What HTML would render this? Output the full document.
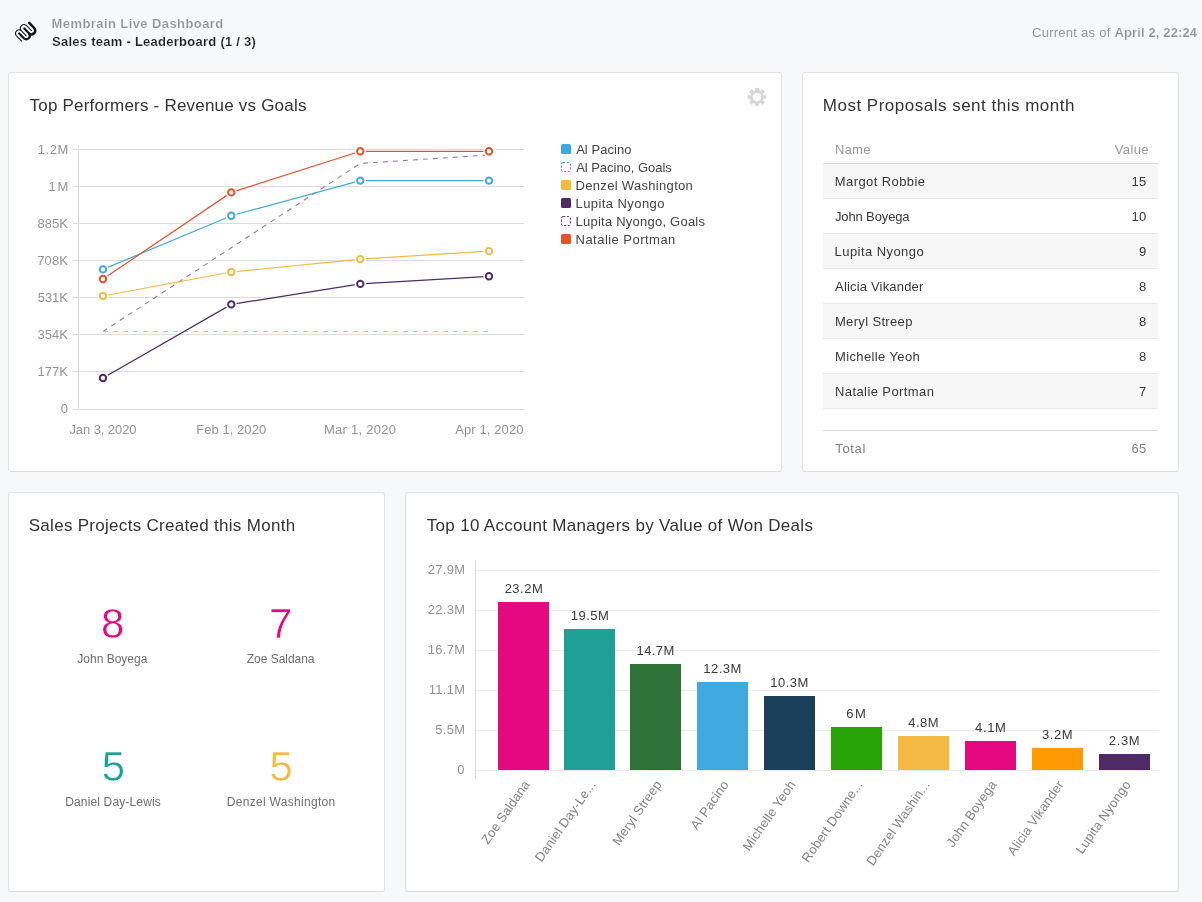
<!DOCTYPE html>
<html lang="en">
<head>
<meta charset="utf-8">
<title>Membrain Live Dashboard</title>
<style>
html,body{margin:0;padding:0}
body{width:1202px;height:902px;background:#f7f8fa;font-family:"Liberation Sans",sans-serif;position:relative;overflow:hidden;color:#333}
.t{position:absolute;white-space:nowrap;line-height:1;margin:0;padding:0;font-weight:normal}
.card{position:absolute;box-sizing:border-box;background:#fff;border:1px solid #e1e3e6;border-bottom-color:#d9dbde;border-radius:3px}
svg{position:absolute;left:0;top:0;overflow:visible}
svg text{font-family:"Liberation Sans",sans-serif}
.row{position:absolute;left:14px;width:335px;height:34px;border-bottom:1px solid #e8e8e8}
.row.odd{background:#f7f7f7}
.kpi{font-size:42px}
</style>
</head>
<body>

<header>
<svg width="60" height="60" viewBox="0 0 60 60" style="left:0;top:0">
<g transform="translate(25.8 31.8) rotate(-44)" fill="none" stroke="#151515" stroke-linejoin="round">
<path d="M-9.5 4.2 L-9.5 -4.3 A3.6 3.6 0 0 1 -2.5 -4.3 L-2.5 3.6 M-2.5 -4.3 A3.75 3.75 0 0 1 4.9 -4.3 L4.9 3.6" stroke-width="1" stroke-linecap="butt"/>
<path d="M-5.9 -3.4 L-5.9 3.6 A3.6 3.6 0 0 0 1.2 3.6 L1.2 -3.4" stroke-width="2.2" stroke-linecap="round"/>
<path d="M1.2 3.6 A3.75 3.75 0 0 0 8.6 3.6 L8.6 -4.0" stroke-width="2.5" stroke-linecap="round"/>
</g></svg>
<span class="t" style="left:51.55px;top:17.20px;font-size:13px;letter-spacing:0.416px;color:#959595;font-weight:bold;-webkit-text-stroke:0.15px #f7f8fa;">Membrain Live Dashboard</span>
<span class="t" style="left:52.00px;top:35.00px;font-size:13px;letter-spacing:0.263px;color:#1c1c1c;font-weight:bold;-webkit-text-stroke:0.15px #f7f8fa;">Sales team - Leaderboard (1 / 3)</span>
<span class="t" style="left:1032.05px;top:26.20px;font-size:13px;letter-spacing:0.254px;color:#999;">Current as of</span>
<span class="t" style="left:1114.45px;top:26.20px;font-size:13px;letter-spacing:0.131px;color:#959595;font-weight:bold;-webkit-text-stroke:0.15px #f7f8fa;">April 2, 22:24</span>
</header>
<section class="card" style="left:8px;top:72px;width:774px;height:400px">
<h2 class="t" style="left:20.60px;top:24.11px;font-size:17px;letter-spacing:0.206px;color:#333;">Top Performers - Revenue vs Goals</h2>
<svg width="22" height="22" viewBox="-11 -11 22 22" style="left:736.5px;top:13.4px"><g fill="#d6d6d6" transform="scale(0.97)"><circle r="7.1"/><rect x="-1.9" y="-9.6" width="3.8" height="4" rx="0.6" transform="rotate(0)"/><rect x="-1.9" y="-9.6" width="3.8" height="4" rx="0.6" transform="rotate(45)"/><rect x="-1.9" y="-9.6" width="3.8" height="4" rx="0.6" transform="rotate(90)"/><rect x="-1.9" y="-9.6" width="3.8" height="4" rx="0.6" transform="rotate(135)"/><rect x="-1.9" y="-9.6" width="3.8" height="4" rx="0.6" transform="rotate(180)"/><rect x="-1.9" y="-9.6" width="3.8" height="4" rx="0.6" transform="rotate(225)"/><rect x="-1.9" y="-9.6" width="3.8" height="4" rx="0.6" transform="rotate(270)"/><rect x="-1.9" y="-9.6" width="3.8" height="4" rx="0.6" transform="rotate(315)"/></g><circle r="4.3" fill="#fff"/></svg>
<svg width="772" height="398" viewBox="9 73 772 398">
<g stroke="#dcdcdc" stroke-width="1" shape-rendering="crispEdges">
<line x1="73" y1="149.5" x2="524" y2="149.5"/>
<line x1="73" y1="186.5" x2="524" y2="186.5"/>
<line x1="73" y1="223.5" x2="524" y2="223.5"/>
<line x1="73" y1="260.5" x2="524" y2="260.5"/>
<line x1="73" y1="297.5" x2="524" y2="297.5"/>
<line x1="73" y1="334.5" x2="524" y2="334.5"/>
<line x1="73" y1="371.5" x2="524" y2="371.5"/>
<line x1="73" y1="409.5" x2="524" y2="409.5"/>
<line x1="78.5" y1="145" x2="78.5" y2="410"/>
</g>
<g>
<text x="37.70" y="154.00" font-size="13" fill="#939393" letter-spacing="0.600">1.2M</text>
<text x="48.60" y="191.00" font-size="13" fill="#939393" letter-spacing="1.700">1M</text>
<text x="37.45" y="228.00" font-size="13" fill="#939393" letter-spacing="0.017">885K</text>
<text x="37.35" y="265.00" font-size="13" fill="#939393" letter-spacing="0.050">708K</text>
<text x="37.75" y="302.00" font-size="13" fill="#939393" letter-spacing="-0.083">531K</text>
<text x="37.50" y="339.00" font-size="13" fill="#939393" letter-spacing="0.000">354K</text>
<text x="37.60" y="376.00" font-size="13" fill="#939393" letter-spacing="-0.033">177K</text>
<text x="60.70" y="412.80" font-size="13" fill="#939393" letter-spacing="0.000">0</text>
</g>
<g>
<text x="69.40" y="434.20" font-size="13" fill="#939393" letter-spacing="-0.080">Jan 3, 2020</text>
<text x="196.35" y="434.20" font-size="13" fill="#939393" letter-spacing="0.040">Feb 1, 2020</text>
<text x="323.95" y="434.20" font-size="13" fill="#939393" letter-spacing="0.270">Mar 1, 2020</text>
<text x="455.15" y="434.20" font-size="13" fill="#939393" letter-spacing="0.115">Apr 1, 2020</text>
</g>
<path d="M103.0 331.5 L360.3 163.4 L489.0 155.0" fill="none" stroke="#9079a2" stroke-width="1.1" stroke-dasharray="5 5"/>
<path d="M103.0 331.5 L489.0 331.5" fill="none" stroke="#93d0ee" stroke-width="1.1" stroke-dasharray="5 5"/>
<path d="M103.0 296.0 L231.3 272.0 L360.3 259.1 L489.0 251.1" fill="none" stroke="#f4b942" stroke-width="1.2"/>
<path d="M103.0 378.0 L231.3 304.4 L360.3 283.9 L489.0 276.3" fill="none" stroke="#4e2a69" stroke-width="1.2"/>
<path d="M103.0 269.4 L231.3 215.7 L360.3 180.6 L489.0 180.6" fill="none" stroke="#3fa9e0" stroke-width="1.2"/>
<path d="M103.0 279.0 L231.3 192.4 L360.3 151.3 L489.0 151.3" fill="none" stroke="#e4512a" stroke-width="1.2"/>
<circle cx="103.0" cy="296.0" r="5.6" fill="#fff"/>
<circle cx="231.3" cy="272.0" r="5.6" fill="#fff"/>
<circle cx="360.3" cy="259.1" r="5.6" fill="#fff"/>
<circle cx="489.0" cy="251.1" r="5.6" fill="#fff"/>
<circle cx="103.0" cy="378.0" r="5.6" fill="#fff"/>
<circle cx="231.3" cy="304.4" r="5.6" fill="#fff"/>
<circle cx="360.3" cy="283.9" r="5.6" fill="#fff"/>
<circle cx="489.0" cy="276.3" r="5.6" fill="#fff"/>
<circle cx="103.0" cy="269.4" r="5.6" fill="#fff"/>
<circle cx="231.3" cy="215.7" r="5.6" fill="#fff"/>
<circle cx="360.3" cy="180.6" r="5.6" fill="#fff"/>
<circle cx="489.0" cy="180.6" r="5.6" fill="#fff"/>
<circle cx="103.0" cy="279.0" r="5.6" fill="#fff"/>
<circle cx="231.3" cy="192.4" r="5.6" fill="#fff"/>
<circle cx="360.3" cy="151.3" r="5.6" fill="#fff"/>
<circle cx="489.0" cy="151.3" r="5.6" fill="#fff"/>
<circle cx="103.0" cy="296.0" r="3.2" fill="#fff" stroke="#f4b942" stroke-width="2"/>
<circle cx="231.3" cy="272.0" r="3.2" fill="#fff" stroke="#f4b942" stroke-width="2"/>
<circle cx="360.3" cy="259.1" r="3.2" fill="#fff" stroke="#f4b942" stroke-width="2"/>
<circle cx="489.0" cy="251.1" r="3.2" fill="#fff" stroke="#f4b942" stroke-width="2"/>
<circle cx="103.0" cy="378.0" r="3.2" fill="#fff" stroke="#4e2a69" stroke-width="2"/>
<circle cx="231.3" cy="304.4" r="3.2" fill="#fff" stroke="#4e2a69" stroke-width="2"/>
<circle cx="360.3" cy="283.9" r="3.2" fill="#fff" stroke="#4e2a69" stroke-width="2"/>
<circle cx="489.0" cy="276.3" r="3.2" fill="#fff" stroke="#4e2a69" stroke-width="2"/>
<circle cx="103.0" cy="269.4" r="3.2" fill="#fff" stroke="#3fa9e0" stroke-width="2"/>
<circle cx="231.3" cy="215.7" r="3.2" fill="#fff" stroke="#3fa9e0" stroke-width="2"/>
<circle cx="360.3" cy="180.6" r="3.2" fill="#fff" stroke="#3fa9e0" stroke-width="2"/>
<circle cx="489.0" cy="180.6" r="3.2" fill="#fff" stroke="#3fa9e0" stroke-width="2"/>
<circle cx="103.0" cy="279.0" r="3.2" fill="#fff" stroke="#e4512a" stroke-width="2"/>
<circle cx="231.3" cy="192.4" r="3.2" fill="#fff" stroke="#e4512a" stroke-width="2"/>
<circle cx="360.3" cy="151.3" r="3.2" fill="#fff" stroke="#e4512a" stroke-width="2"/>
<circle cx="489.0" cy="151.3" r="3.2" fill="#fff" stroke="#e4512a" stroke-width="2"/>
<rect x="561" y="144" width="10" height="10" rx="1.5" fill="#3fa9e0"/>
<text x="576.15" y="153.50" font-size="13" fill="#444" letter-spacing="0.056">Al Pacino</text>
<rect x="561.5" y="162.5" width="9" height="9" rx="1.5" fill="#fff" stroke="#3fa9e0" stroke-width="1" stroke-dasharray="2.2 1.6"/>
<text x="576.15" y="171.50" font-size="13" fill="#444" letter-spacing="-0.027">Al Pacino, Goals</text>
<rect x="561" y="180" width="10" height="10" rx="1.5" fill="#f4b942"/>
<text x="575.55" y="189.50" font-size="13" fill="#444" letter-spacing="0.316">Denzel Washington</text>
<rect x="561" y="198" width="10" height="10" rx="1.5" fill="#4e2a69"/>
<text x="575.55" y="207.50" font-size="13" fill="#444" letter-spacing="0.421">Lupita Nyongo</text>
<rect x="561.5" y="216.5" width="9" height="9" rx="1.5" fill="#fff" stroke="#6b3f8f" stroke-width="1" stroke-dasharray="2.2 1.6"/>
<text x="575.55" y="225.50" font-size="13" fill="#444" letter-spacing="0.232">Lupita Nyongo, Goals</text>
<rect x="561" y="234" width="10" height="10" rx="1.5" fill="#e4512a"/>
<text x="575.55" y="243.50" font-size="13" fill="#444" letter-spacing="0.468">Natalie Portman</text>
</svg>
</section>
<section class="card" style="left:802px;top:72px;width:377px;height:400px">
<h2 class="t" style="left:19.80px;top:24.11px;font-size:17px;letter-spacing:0.498px;color:#333;">Most Proposals sent this month</h2>
<span class="t" style="left:32.05px;top:69.80px;font-size:13px;letter-spacing:0.220px;color:#999;">Name</span>
<span class="t" style="left:311.75px;top:69.80px;font-size:13px;letter-spacing:0.363px;color:#999;">Value</span>
<div style="position:absolute;left:20px;top:90px;width:335px;height:1px;background:#dadada"></div>
<div class="row odd" style="left:20px;top:91px"></div>
<span class="t" style="left:31.85px;top:101.80px;font-size:13px;letter-spacing:0.404px;color:#383838;">Margot Robbie</span>
<span class="t" style="left:328.55px;top:101.80px;font-size:13px;letter-spacing:0.200px;color:#383838;">15</span>
<div class="row" style="left:20px;top:126px"></div>
<span class="t" style="left:31.90px;top:136.80px;font-size:13px;letter-spacing:-0.120px;color:#383838;">John Boyega</span>
<span class="t" style="left:328.55px;top:136.80px;font-size:13px;letter-spacing:0.200px;color:#383838;">10</span>
<div class="row odd" style="left:20px;top:161px"></div>
<span class="t" style="left:31.55px;top:171.80px;font-size:13px;letter-spacing:0.438px;color:#383838;">Lupita Nyongo</span>
<span class="t" style="left:336.10px;top:171.80px;font-size:13px;letter-spacing:0.000px;color:#383838;">9</span>
<div class="row" style="left:20px;top:196px"></div>
<span class="t" style="left:32.05px;top:206.80px;font-size:13px;letter-spacing:0.182px;color:#383838;">Alicia Vikander</span>
<span class="t" style="left:336.05px;top:206.80px;font-size:13px;letter-spacing:0.000px;color:#383838;">8</span>
<div class="row odd" style="left:20px;top:231px"></div>
<span class="t" style="left:31.95px;top:241.80px;font-size:13px;letter-spacing:0.345px;color:#383838;">Meryl Streep</span>
<span class="t" style="left:336.05px;top:241.80px;font-size:13px;letter-spacing:0.000px;color:#383838;">8</span>
<div class="row" style="left:20px;top:266px"></div>
<span class="t" style="left:31.95px;top:276.80px;font-size:13px;letter-spacing:0.388px;color:#383838;">Michelle Yeoh</span>
<span class="t" style="left:336.05px;top:276.80px;font-size:13px;letter-spacing:0.000px;color:#383838;">8</span>
<div class="row odd" style="left:20px;top:301px"></div>
<span class="t" style="left:31.95px;top:311.80px;font-size:13px;letter-spacing:0.418px;color:#383838;">Natalie Portman</span>
<span class="t" style="left:336.10px;top:311.80px;font-size:13px;letter-spacing:0.000px;color:#383838;">7</span>
<div style="position:absolute;left:20px;top:357px;width:335px;height:1px;background:#dcdcdc"></div>
<span class="t" style="left:32.30px;top:368.70px;font-size:13px;letter-spacing:0.662px;color:#828282;">Total</span>
<span class="t" style="left:328.55px;top:368.70px;font-size:13px;letter-spacing:0.200px;color:#828282;">65</span>
</section>
<section class="card" style="left:8px;top:492px;width:377px;height:400px">
<h2 class="t" style="left:19.70px;top:24.11px;font-size:17px;letter-spacing:0.294px;color:#333;">Sales Projects Created this Month</h2>
<span class="t kpi" style="left:91.95px;top:109.65px;font-size:42px;letter-spacing:0.000px;color:#e5097f;-webkit-text-stroke:0.4px #fff;">8</span>
<span class="t" style="left:68.30px;top:159.94px;font-size:12px;letter-spacing:-0.005px;color:#6e6e6e;">John Boyega</span>
<span class="t kpi" style="left:259.90px;top:109.65px;font-size:42px;letter-spacing:0.000px;color:#e5097f;-webkit-text-stroke:0.4px #fff;">7</span>
<span class="t" style="left:237.80px;top:159.94px;font-size:12px;letter-spacing:-0.035px;color:#6e6e6e;">Zoe Saldana</span>
<span class="t kpi" style="left:92.65px;top:253.05px;font-size:42px;letter-spacing:0.000px;color:#1fa097;-webkit-text-stroke:0.4px #fff;">5</span>
<span class="t" style="left:56.20px;top:302.64px;font-size:12px;letter-spacing:0.147px;color:#6e6e6e;">Daniel Day-Lewis</span>
<span class="t kpi" style="left:260.55px;top:253.05px;font-size:42px;letter-spacing:0.000px;color:#f4b942;-webkit-text-stroke:0.4px #fff;">5</span>
<span class="t" style="left:217.70px;top:302.64px;font-size:12px;letter-spacing:0.309px;color:#6e6e6e;">Denzel Washington</span>
</section>
<section class="card" style="left:405px;top:492px;width:774px;height:400px">
<h2 class="t" style="left:20.80px;top:24.11px;font-size:17px;letter-spacing:0.306px;color:#333;">Top 10 Account Managers by Value of Won Deals</h2>
<svg width="772" height="398" viewBox="406 493 772 398">
<g stroke="#ebebeb" stroke-width="1" shape-rendering="crispEdges">
<line x1="476" y1="570.5" x2="1158" y2="570.5"/>
<line x1="476" y1="610.5" x2="1158" y2="610.5"/>
<line x1="476" y1="650.5" x2="1158" y2="650.5"/>
<line x1="476" y1="690.5" x2="1158" y2="690.5"/>
<line x1="476" y1="730.5" x2="1158" y2="730.5"/>
<line x1="476" y1="770.5" x2="1158" y2="770.5"/>
</g>
<line x1="475.5" y1="560" x2="475.5" y2="779" stroke="#dcdcdc" stroke-width="1" shape-rendering="crispEdges"/>
<text x="427.85" y="573.60" font-size="13" fill="#929292" letter-spacing="0.250">27.9M</text>
<text x="427.85" y="613.60" font-size="13" fill="#929292" letter-spacing="0.250">22.3M</text>
<text x="427.85" y="653.60" font-size="13" fill="#929292" letter-spacing="0.250">16.7M</text>
<text x="428.80" y="693.60" font-size="13" fill="#929292" letter-spacing="0.250">11.1M</text>
<text x="435.35" y="733.60" font-size="13" fill="#929292" letter-spacing="0.250">5.5M</text>
<text x="457.20" y="773.60" font-size="13" fill="#929292" letter-spacing="0.000">0</text>
<rect x="498" y="602.0" width="51" height="168.0" fill="#e5097f" shape-rendering="crispEdges"/>
<text x="504.65" y="592.80" font-size="13" fill="#3a3a3a" letter-spacing="0.500">23.2M</text>
<rect x="564" y="629.0" width="51" height="141.0" fill="#1fa097" shape-rendering="crispEdges"/>
<text x="570.80" y="619.80" font-size="13" fill="#3a3a3a" letter-spacing="0.463">19.5M</text>
<rect x="630" y="663.8" width="51" height="106.2" fill="#2e7237" shape-rendering="crispEdges"/>
<text x="636.50" y="654.60" font-size="13" fill="#3a3a3a" letter-spacing="0.413">14.7M</text>
<rect x="697" y="682.0" width="51" height="88.0" fill="#3fa9e0" shape-rendering="crispEdges"/>
<text x="703.30" y="672.80" font-size="13" fill="#3a3a3a" letter-spacing="0.463">12.3M</text>
<rect x="764" y="695.8" width="51" height="74.2" fill="#1a405b" shape-rendering="crispEdges"/>
<text x="770.30" y="686.60" font-size="13" fill="#3a3a3a" letter-spacing="0.488">10.3M</text>
<rect x="831" y="727.0" width="51" height="43.0" fill="#27a308" shape-rendering="crispEdges"/>
<text x="846.25" y="717.80" font-size="13" fill="#3a3a3a" letter-spacing="1.450">6M</text>
<rect x="898" y="736.0" width="51" height="34.0" fill="#f4b942" shape-rendering="crispEdges"/>
<text x="908.20" y="726.80" font-size="13" fill="#3a3a3a" letter-spacing="0.467">4.8M</text>
<rect x="965" y="740.8" width="51" height="29.2" fill="#e5097f" shape-rendering="crispEdges"/>
<text x="975.10" y="731.60" font-size="13" fill="#3a3a3a" letter-spacing="0.600">4.1M</text>
<rect x="1032" y="748.0" width="51" height="22.0" fill="#ff9a05" shape-rendering="crispEdges"/>
<text x="1041.90" y="738.80" font-size="13" fill="#3a3a3a" letter-spacing="0.600">3.2M</text>
<rect x="1099" y="754.1" width="51" height="15.9" fill="#4e2a69" shape-rendering="crispEdges"/>
<text x="1108.85" y="744.90" font-size="13" fill="#3a3a3a" letter-spacing="0.617">2.3M</text>
<text transform="translate(530.3 784.5) rotate(-55)" text-anchor="end" font-size="13" fill="#858585" letter-spacing="0.0">Zoe Saldana</text>
<text transform="translate(596.3 784.5) rotate(-55)" text-anchor="end" font-size="13" fill="#858585" letter-spacing="0.14">Daniel Day-Le...</text>
<text transform="translate(662.3 784.5) rotate(-55)" text-anchor="end" font-size="13" fill="#858585" letter-spacing="0.14">Meryl Streep</text>
<text transform="translate(729.3 784.5) rotate(-55)" text-anchor="end" font-size="13" fill="#858585" letter-spacing="0.14">Al Pacino</text>
<text transform="translate(796.3 784.5) rotate(-55)" text-anchor="end" font-size="13" fill="#858585" letter-spacing="0.14">Michelle Yeoh</text>
<text transform="translate(863.3 784.5) rotate(-55)" text-anchor="end" font-size="13" fill="#858585" letter-spacing="0.14">Robert Downe...</text>
<text transform="translate(930.3 784.5) rotate(-55)" text-anchor="end" font-size="13" fill="#858585" letter-spacing="0.14">Denzel Washin...</text>
<text transform="translate(997.3 784.5) rotate(-55)" text-anchor="end" font-size="13" fill="#858585" letter-spacing="0.14">John Boyega</text>
<text transform="translate(1064.3 784.5) rotate(-55)" text-anchor="end" font-size="13" fill="#858585" letter-spacing="0.14">Alicia Vikander</text>
<text transform="translate(1131.3 784.5) rotate(-55)" text-anchor="end" font-size="13" fill="#858585" letter-spacing="0.14">Lupita Nyongo</text>
</svg>
</section>
</body>
</html>
